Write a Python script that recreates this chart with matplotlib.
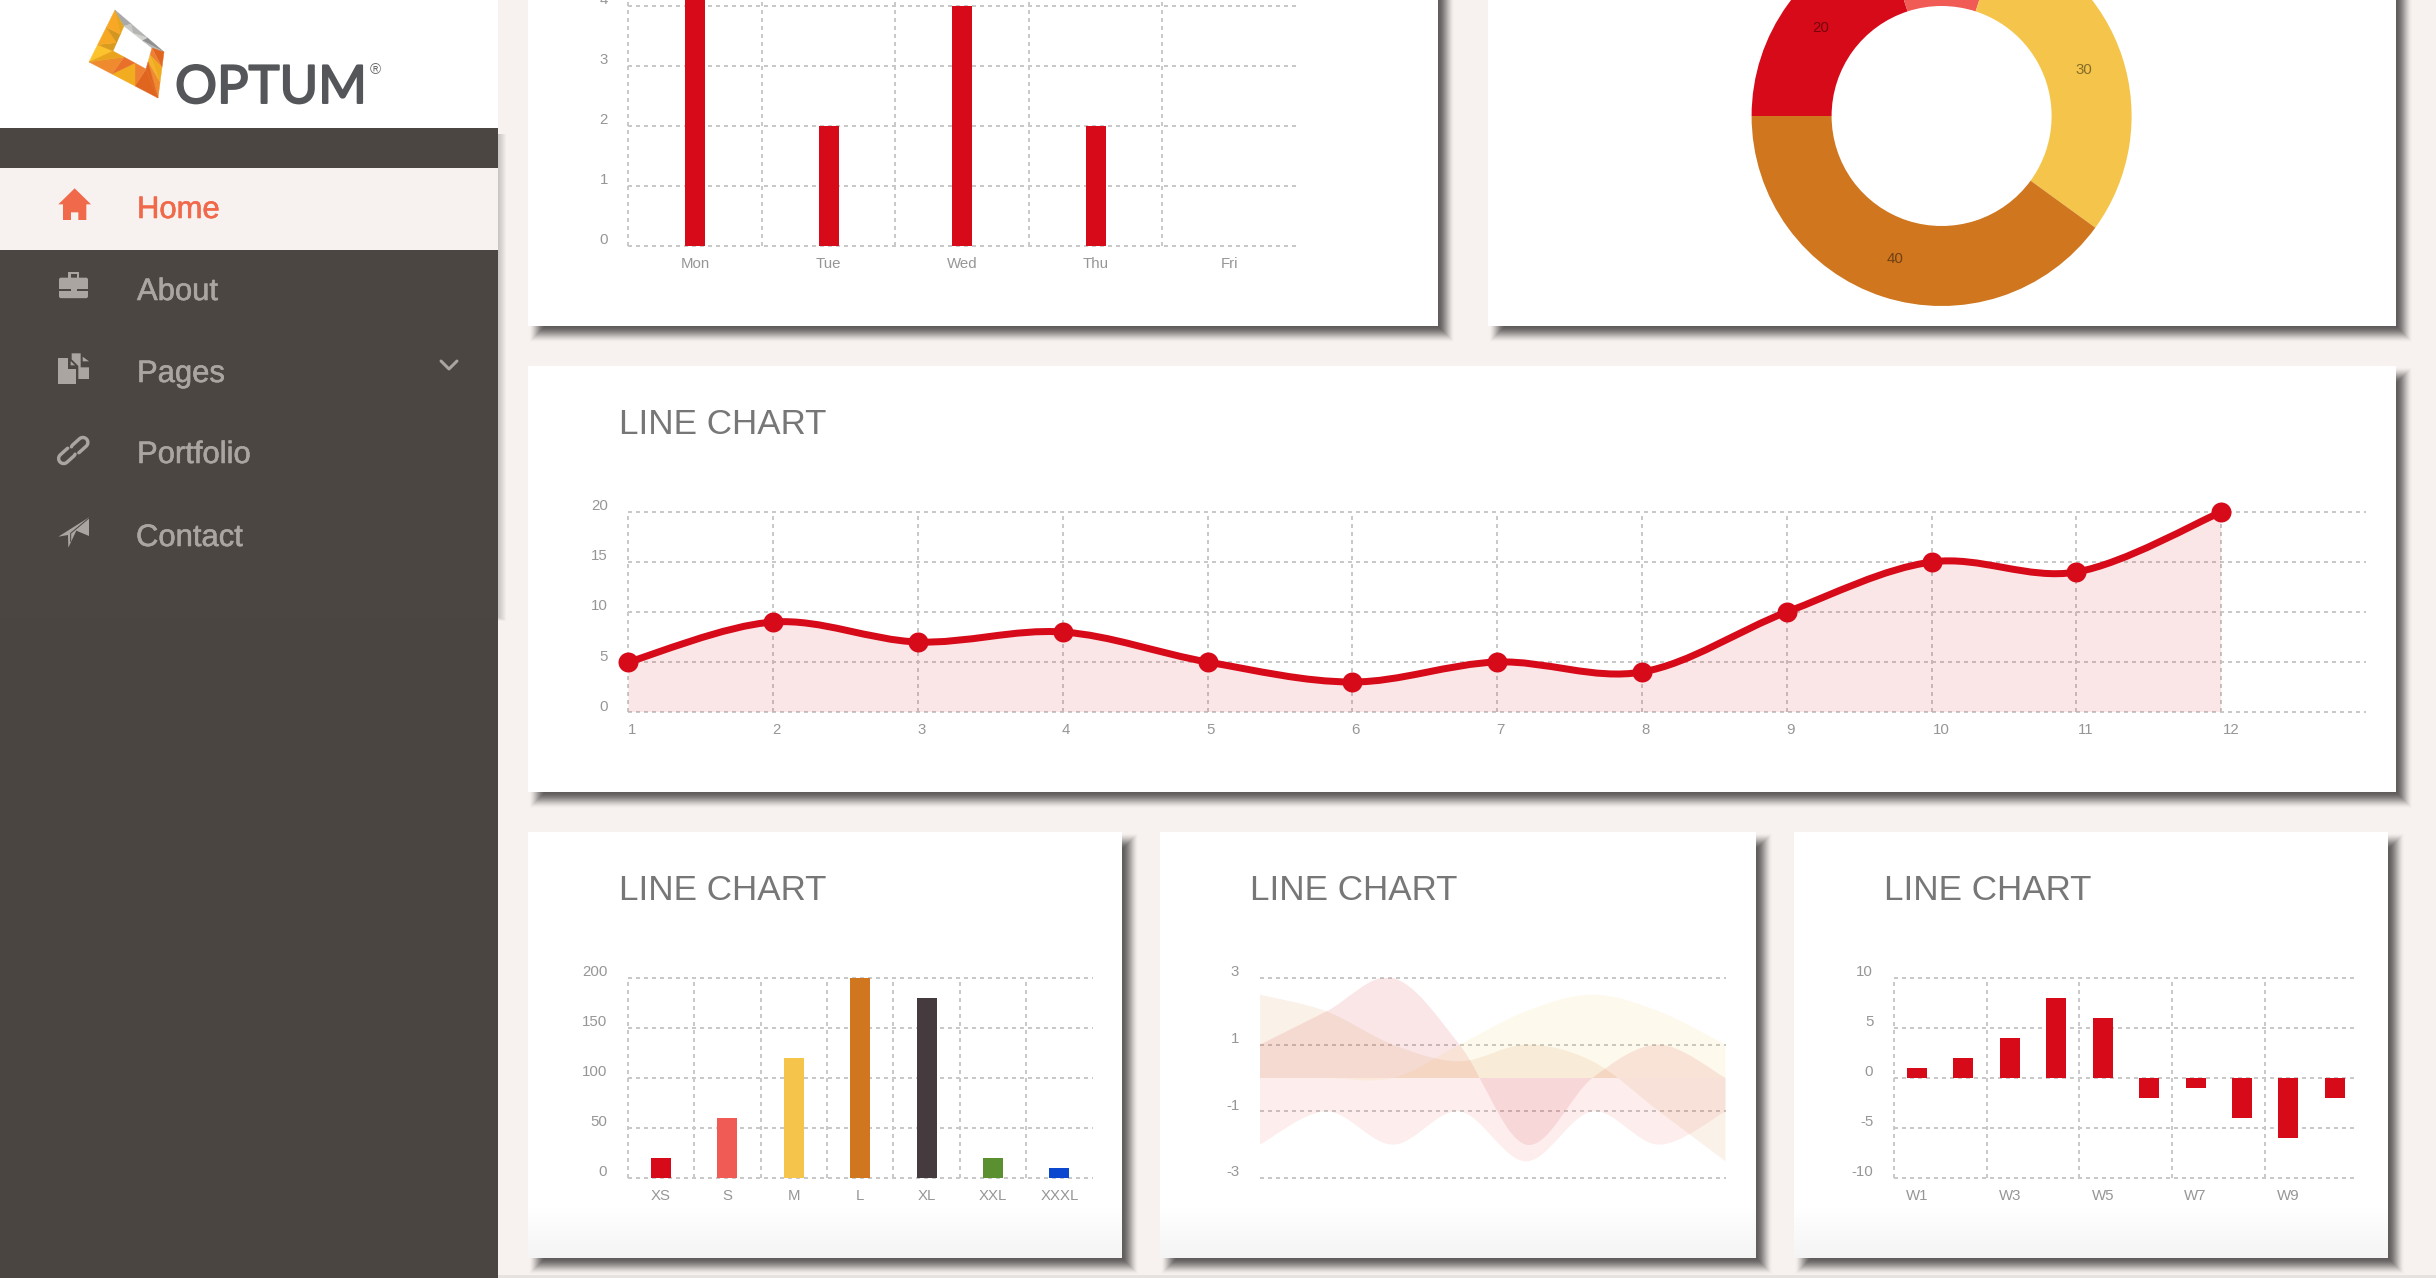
import matplotlib
matplotlib.use('Agg')
import matplotlib.pyplot as plt
import numpy as np
from matplotlib.patches import Rectangle, Polygon, PathPatch, FancyBboxPatch
from matplotlib.path import Path
from matplotlib.transforms import ScaledTranslation
from matplotlib.patheffects import withStroke

plt.rcParams['font.family'] = ['Liberation Sans', 'DejaVu Sans']
plt.rcParams['axes.unicode_minus'] = False

# ---- data ----
menu_items = ['Home', 'About', 'Pages', 'Portfolio', 'Contact']
day_labels = ['Mon', 'Tue', 'Wed', 'Thu', 'Fri']
day_values = [5, 2, 4, 2, 0]
donut_values = [20, 10, 30, 40]
line_x = [1, 2, 3, 4, 5, 6, 7, 8, 9, 10, 11, 12]
line_values = [5, 9, 7, 8, 5, 3, 5, 4, 10, 15, 14, 20]
size_labels = ['XS', 'S', 'M', 'L', 'XL', 'XXL', 'XXXL']
size_values = [20, 60, 120, 200, 180, 20, 10]
area_series_a = [1, 2, 3, 1, -2, 0, 1, 0]
area_series_b = [-2, -1, -2, -1, -2.5, -1, -2, -1]
area_series_c = [0, 0, 0, 1, 2, 2.5, 2, 1]
area_series_d = [2.5, 2, 1, 0.5, 1, 0.5, -1, -2.5]
week_labels = ['W1', 'W3', 'W5', 'W7', 'W9']
week_values = [1, 2, 4, 8, 6, -2, -1, -4, -6, -2]
chart_title = 'LINE CHART'

RED, SALMON, YELLOW, ORANGE = '#d70a19', '#f05b55', '#f4c54a', '#cf761f'
DARK, GREEN, BLUE = '#453b3e', '#5a9030', '#0c47d0'
size_colors = [RED, SALMON, YELLOW, ORANGE, DARK, GREEN, BLUE]
donut_colors = [RED, SALMON, YELLOW, ORANGE]
area_colors = [RED, SALMON, YELLOW, ORANGE]
BG = '#f7f2ef'
SIDE = '#4c4642'
MENU = '#aaa5a0'
ACTIVE = '#f0694a'
TICK = '#969696'
GRID = '#c9c9c9'

W, H = 2436, 1278
DPI = 100
PT = 72 / DPI
fig = plt.figure(figsize=(W / DPI, H / DPI), dpi=DPI, facecolor=BG)

bg = fig.add_axes([0, 0, 1, 1], zorder=0)
bg.set_xlim(0, W)
bg.set_ylim(H, 0)
bg.axis('off')


def rect(x0, y0, x1, y1, c, z=1, alpha=None):
    bg.add_patch(Rectangle((x0, y0), x1 - x0, y1 - y0, fc=c, ec='none', zorder=z, alpha=alpha))


def card(x0, y0, x1, y1, gradient=False):
    spread = 17.0
    steps = 34
    prev = 0.0
    for k in range(1, steps + 1):
        d = spread * (1 - k / steps)
        t = d / spread
        target = 0.58 * (1 - t * t * (3 - 2 * t))
        a = 1 - (1 - target) / (1 - prev)
        prev = target
        rect(x0 + spread - d, y0 + spread - d, x1 + d, y1 + d, 'black', z=1, alpha=a)
    rect(x0, y0, x1, y1, 'white', z=2)
    if gradient:
        top = 1205
        for yy in range(top, y1):
            t = (yy - top) / (y1 - top)
            v = 1 - t * 0.045
            rect(x0, yy, x1, yy + 1.2, (v, v, v), z=3)


def px_axes(l, t, r, b):
    ax = fig.add_axes([l / W, 1 - b / H, (r - l) / W, (b - t) / H], zorder=5)
    ax.patch.set_alpha(0)
    for s in ax.spines.values():
        s.set_visible(False)
    return ax


def style_axes(ax, ypad=14.8, showx=True):
    ax.tick_params(which='both', length=0, labelsize=15 * PT, labelcolor=TICK)
    ax.tick_params(axis='y', pad=ypad)
    ax.tick_params(axis='x', which='both', pad=8)
    ax.set_axisbelow(True)
    dash = (0, (2, 2))
    ax.grid(True, axis='y', which='major', color=GRID, lw=2 * PT, ls=dash, dash_capstyle='butt')
    if showx:
        ax.grid(True, axis='x', which='major', color=GRID, lw=2 * PT, ls=dash, dash_capstyle='butt')
    for ln in ax.get_xgridlines() + ax.get_ygridlines():
        ln.set_clip_on(False)
    shift = ScaledTranslation(0, 7 / DPI, fig.dpi_scale_trans)
    for lb in ax.get_yticklabels():
        lb.set_transform(lb.get_transform() + shift)


def curve_vertices(xs, ys):
    pts = list(zip(xs, ys))
    n = len(pts)
    verts = [pts[0]]
    for i in range(n - 1):
        p0 = pts[i - 1] if i > 0 else pts[i]
        p1 = pts[i]
        p2 = pts[i + 1]
        p3 = pts[i + 2] if i + 2 < n else p2
        verts.append((p1[0] + (p2[0] - p0[0]) / 6, p1[1] + (p2[1] - p0[1]) / 6))
        verts.append((p2[0] - (p3[0] - p1[0]) / 6, p2[1] - (p3[1] - p1[1]) / 6))
        verts.append(p2)
    return verts


def line_path(xs, ys):
    v = curve_vertices(xs, ys)
    return Path(v, [Path.MOVETO] + [Path.CURVE4] * (len(v) - 1))


def area_path(xs, ys, base=0):
    v = curve_vertices(xs, ys)
    verts = [(xs[0], base)] + v + [(xs[-1], base), (xs[0], base)]
    codes = [Path.MOVETO, Path.LINETO] + [Path.CURVE4] * (len(v) - 1) + [Path.LINETO, Path.CLOSEPOLY]
    return Path(verts, codes)


def title(x, y):
    bg.text(x, y, chart_title, fontsize=35 * PT, color='#777777', ha='left', va='baseline', zorder=6)


# ---- page: sidebar ----
rect(0, 0, 498, 128, 'white', z=2)
for i in range(8):
    rect(498, 134, 499 + i, 617 + i * 0.5, '#000000', z=1, alpha=0.022)
rect(0, 128, 498, H, SIDE, z=2)
rect(0, 617, 498, H, '#4b4541', z=2)
rect(0, 168, 498, 250, BG, z=3)
rect(0, 1275, W, H, '#e6e2df', z=1)

baselines = [218, 300, 382, 463, 546]
menu_left = [137, 137, 137, 137, 136]
for name, y, xl in zip(menu_items, baselines, menu_left):
    bg.text(xl, y, name, fontsize=31 * PT, color=ACTIVE if name == 'Home' else MENU,
            ha='left', va='baseline', zorder=6,
            path_effects=[withStroke(linewidth=0.4, foreground=ACTIVE if name == 'Home' else MENU)])

zx = lambda x: 40 + x / 3
zy = lambda y: 180 + y / 3


def icon(points, c, z=6):
    bg.add_patch(Polygon([(zx(a), zy(b)) for a, b in points], closed=True, fc=c, ec='none', zorder=z))


# home icon
icon([(104, 25), (153, 73), (139, 73), (139, 120), (115, 120), (115, 97), (93, 97), (93, 120), (69, 120), (69, 73), (55, 73)], ACTIVE)
# briefcase icon
bg.add_patch(FancyBboxPatch((zx(57), zy(293)), 29, 20.5, boxstyle='round,pad=0,rounding_size=2', fc=MENU, ec='none', zorder=6))
icon([(85, 293), (85, 275), (118, 275), (118, 293), (110, 293), (110, 282), (93, 282), (93, 293)], MENU)
rect(zx(54), zy(326), zx(147), zy(332), SIDE, z=7)
rect(zx(93), zy(320), zx(110), zy(332), MENU, z=8)
# pages icon
icon([(54, 535), (83, 535), (83, 566), (108, 566), (108, 611), (54, 611)], MENU)
icon([(95, 520), (122, 520), (122, 562), (147, 562), (147, 597), (115, 597), (115, 558), (95, 538)], MENU)
icon([(128, 530), (147, 544), (128, 544)], MENU)
icon([(92, 543), (105, 556), (92, 556)], MENU)


# link icon: two open stadium outlines on a rising diagonal
def stadium(cx, cy, half, rad, keep_from, keep_to):
    ang = np.radians(-42)
    th = np.linspace(keep_from, keep_to, 90)
    pts = []
    per = 4 * half + 2 * np.pi * rad
    for s in (th % 1.0) * per:
        if s < 2 * half:
            p = (-half + s, -rad)
        elif s < 2 * half + np.pi * rad:
            b = (s - 2 * half) / rad
            p = (half + rad * np.sin(b), -rad * np.cos(b))
        elif s < 4 * half + np.pi * rad:
            p = (half - (s - 2 * half - np.pi * rad), rad)
        else:
            b = (s - 4 * half - np.pi * rad) / rad
            p = (-half - rad * np.sin(b), rad * np.cos(b))
        pts.append((cx + p[0] * np.cos(ang) - p[1] * np.sin(ang),
                    cy + p[0] * np.sin(ang) + p[1] * np.cos(ang)))
    return np.array(pts)


for cx, cy, a0, a1 in ((67, 455.5, 0.45, 1.20), (79.5, 445.5, 0.95, 1.70)):
    pts = stadium(cx, cy, 4.5, 5.0, a0, a1)
    bg.plot(pts[:, 0], pts[:, 1], color=MENU, lw=3.4 * PT, solid_capstyle='round', zorder=6)
# send icon
icon([(147, 1012), (147, 1068), (109, 1052), (85, 1103), (84, 1065), (55, 1070)], MENU)
bg.plot([zx(147), zx(92), zx(92)], [zy(1014), zy(1060), zy(1084)], color=SIDE, lw=1.0 * PT, zorder=7)
# chevron
bg.plot([441, 449, 457], [361, 369, 361], color=MENU, lw=3 * PT, zorder=6, solid_capstyle='round')

# ---- logo ----
outer = [(89, 62), (115, 10), (164, 52), (158, 98)]
inner = [(113, 51), (124, 26), (152, 48), (146, 69)]
logo_cols = [
    ['#fdc32d', '#d99a20', '#f7a823', '#d39620', '#f9a825', '#e8a61f'],
    ['#a8a8a8', '#c9c9c7', '#b5b5b3', '#d2d2cf', '#8f8f8f', '#b8b8b6'],
    ['#e0651e', '#ee8034', '#efaa1f', '#f4b32a', '#ef8a2f', '#e0651e'],
    ['#e0651e', '#ee8034', '#f2ac20', '#e8702a', '#ef8a2f', '#e9a31c'],
]
for e in range(4):
    o0, o1 = np.array(outer[e]), np.array(outer[(e + 1) % 4])
    i0, i1 = np.array(inner[e]), np.array(inner[(e + 1) % 4])
    for s in range(3):
        a, b = o0 + (o1 - o0) * s / 3, o0 + (o1 - o0) * (s + 1) / 3
        c, d = i0 + (i1 - i0) * s / 3, i0 + (i1 - i0) * (s + 1) / 3
        bg.add_patch(Polygon([a, b, c], fc=logo_cols[e][2 * s], ec=logo_cols[e][2 * s], lw=0.3, zorder=4))
        bg.add_patch(Polygon([b, d, c], fc=logo_cols[e][2 * s + 1], ec=logo_cols[e][2 * s + 1], lw=0.3, zorder=4))
bg.text(175, 103, 'OPTUM', fontsize=52.5 * PT, family='Lato', color='#55565a', ha='left', va='baseline', zorder=6,
        path_effects=[withStroke(linewidth=1.4, foreground='#55565a')])
bg.text(375.5, 70, '®', fontsize=15 * PT, color='#6a6b6e', ha='center', va='center', zorder=6)

# ---- cards ----
card(528, -40, 1438, 326)
card(1488, -40, 2396, 326)
card(528, 366, 2396, 792)
card(528, 832, 1122, 1258, gradient=True)
card(1160, 832, 1756, 1258, gradient=True)
card(1794, 832, 2388, 1258, gradient=True)

# ---- top-left bar chart ----
ax = px_axes(628.4, -54, 1296, 246)
ax.set_xlim(0, 5)
ax.set_ylim(0, 5)
pos = np.arange(len(day_values)) + 0.5
ax.bar(pos, day_values, width=20 / 133.6, color=RED, zorder=3)
ax.set_xticks(np.arange(5))
ax.set_xticklabels([])
ax.set_xticks(pos, day_labels, minor=True)
ax.set_yticks([0, 1, 2, 3, 4])
style_axes(ax)

# ---- donut ----
ax = px_axes(1941.6 - 190, 116 - 190, 1941.6 + 190, 116 + 190)
wedges, texts = ax.pie(donut_values, colors=donut_colors, startangle=180, counterclock=False, radius=1,
                       wedgeprops=dict(width=80 / 190, linewidth=0),
                       labels=[str(v) for v in donut_values], labeldistance=150 / 190,
                       textprops=dict(fontsize=15 * PT, color=(0, 0, 0, 0.45)))
for t in texts:
    t.set_ha('center')
    t.set_va('center')
ax.set_xlim(-1, 1)
ax.set_ylim(-1, 1)

# ---- wide line chart ----
title(619, 434)
ax = px_axes(628.4, 512, 2366, 712)
ax.set_xlim(1, 13)
ax.set_ylim(0, 20)
ax.set_xticks(line_x, [str(v) for v in line_x])
ax.set_yticks([0, 5, 10, 15, 20])
style_axes(ax)
for v, lb in zip(line_x, ax.get_xticklabels()):
    lb.set_ha('left')
    dx = 1.5 if v >= 10 else -1.0
    lb.set_transform(lb.get_transform() + ScaledTranslation(dx / DPI, 0, fig.dpi_scale_trans))
ax.add_patch(PathPatch(area_path(line_x, line_values), fc=RED, alpha=0.1, ec='none', zorder=3))
ax.add_patch(PathPatch(line_path(line_x, line_values), fc='none', ec=RED, lw=7 * PT, zorder=4, clip_on=False))
ax.plot(line_x, line_values, 'o', ms=20 * PT, color=RED, mew=0, zorder=5, clip_on=False)

# ---- sizes bar chart ----
title(619, 900)
ax = px_axes(627.8, 978, 1092.6, 1178)
ax.set_xlim(0, 7)
ax.set_ylim(0, 200)
pos = np.arange(len(size_values)) + 0.5
ax.bar(pos, size_values, width=20 / 66.4, color=size_colors, zorder=3)
ax.set_xticks(np.arange(7))
ax.set_xticklabels([])
ax.set_xticks(pos, size_labels, minor=True)
ax.set_yticks([0, 50, 100, 150, 200])
style_axes(ax)

# ---- overlapping areas ----
title(1250.5, 900)
ax = px_axes(1260, 978, 1725.5, 1178)
xs = list(range(len(area_series_a)))
ax.set_xlim(0, 7)
ax.set_ylim(-3, 3)
ax.set_xticks([])
ax.set_yticks([-3, -1, 1, 3])
style_axes(ax, ypad=15, showx=False)
for series, col in zip([area_series_a, area_series_b, area_series_c, area_series_d], area_colors):
    ax.add_patch(PathPatch(area_path(xs, series), fc=col, alpha=0.1, ec='none', zorder=3))

# ---- weekly bars ----
title(1884, 900)
ax = px_axes(1893.8, 978, 2358, 1178)
ax.set_xlim(0, 10)
ax.set_ylim(-10, 10)
pos = np.arange(len(week_values)) + 0.5
ax.bar(pos, week_values, width=20 / 46.4, color=RED, zorder=3)
ax.set_xticks([0, 2, 4, 6, 8])
ax.set_xticklabels([])
ax.set_xticks(pos[::2], week_labels, minor=True)
ax.set_yticks([-10, -5, 0, 5, 10])
style_axes(ax)

fig.savefig('out.png', dpi=DPI, facecolor=BG)
